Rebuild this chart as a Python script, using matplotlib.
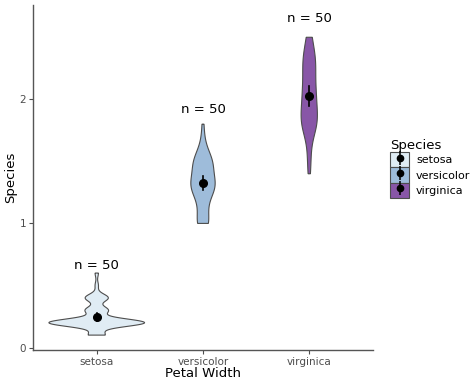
import numpy as np
import matplotlib
matplotlib.use("Agg")
import matplotlib.pyplot as plt
from matplotlib.patches import Patch
from matplotlib.lines import Line2D
from matplotlib.legend_handler import HandlerTuple

# ---- data (iris petal width, value -> count) ----
species = ["setosa", "versicolor", "virginica"]
setosa_vals = [0.1, 0.2, 0.3, 0.4, 0.5, 0.6]
setosa_counts = [5, 29, 7, 7, 1, 1]
versicolor_vals = [1.0, 1.1, 1.2, 1.3, 1.4, 1.5, 1.6, 1.7, 1.8]
versicolor_counts = [7, 3, 5, 13, 7, 10, 3, 1, 1]
virginica_vals = [1.4, 1.5, 1.6, 1.7, 1.8, 1.9, 2.0, 2.1, 2.2, 2.3, 2.4, 2.5]
virginica_counts = [1, 2, 1, 1, 11, 5, 6, 6, 3, 8, 3, 3]
fill_colors = ["#e0ecf4", "#9ebcda", "#8856a7"]
y_ticks = [0, 1, 2]

groups = [np.repeat(setosa_vals, setosa_counts),
          np.repeat(versicolor_vals, versicolor_counts),
          np.repeat(virginica_vals, virginica_counts)]


def nrd0(x):
    sd = np.std(x, ddof=1)
    q75, q25 = np.percentile(x, [75, 25])
    lo = min(sd, (q75 - q25) / 1.34)
    if lo == 0:
        lo = sd
    return 0.9 * lo * len(x) ** (-0.2)


def kde(x, grid):
    bw = nrd0(x)
    z = (grid[:, None] - x[None, :]) / bw
    return np.exp(-0.5 * z ** 2).sum(axis=1) / (len(x) * bw * np.sqrt(2 * np.pi))


dens = []
for g in groups:
    grid = np.linspace(g.min(), g.max(), 512)
    dens.append((grid, kde(g, grid)))
dmax = max(d.max() for _, d in dens)

fig = plt.figure(figsize=(4.74, 3.87), dpi=100)
ax = fig.add_axes([33 / 474, 37 / 387, 340 / 474, 345 / 387])

grey = "#4d4d4d"
for i, ((grid, d), g) in enumerate(zip(dens, groups)):
    pos = i + 1
    w = d / dmax * 0.45
    xs = np.concatenate([pos - w, (pos + w)[::-1]])
    ys = np.concatenate([grid, grid[::-1]])
    ax.fill(xs, ys, facecolor=fill_colors[i], edgecolor=grey, linewidth=0.8, zorder=2)
    m = g.mean()
    se = g.std(ddof=1) / np.sqrt(len(g))
    ci = 2.0096 * se
    ax.plot([pos, pos], [m - ci, m + ci], color="black", lw=1.2, zorder=3)
    ax.plot([pos], [m], "o", color="black", ms=5.5, zorder=4)
    ax.text(pos, g.max() * 1.05 + 0.03, f"n = {len(g)}", ha="center", va="center",
            fontsize=9.5, color="black")

ax.set_xlim(0.4, 3.6)
ax.set_ylim(-0.02, 2.76)
ax.set_xticks([1, 2, 3])
ax.set_xticklabels(species)
ax.set_yticks(y_ticks)
ax.set_yticklabels([str(t) for t in y_ticks])
ax.tick_params(axis="both", colors=grey, labelsize=7.5, length=3, width=0.8,
               labelcolor=grey, pad=2)
for s in ["top", "right"]:
    ax.spines[s].set_visible(False)
for s in ["left", "bottom"]:
    ax.spines[s].set_color("#555555")
    ax.spines[s].set_linewidth(1.0)
ax.set_xlabel("Petal Width", fontsize=9.5, labelpad=0)
ax.set_ylabel("Species", fontsize=9.5, labelpad=2)

handles = []
for c in fill_colors:
    handles.append((Patch(facecolor=c, edgecolor=grey, linewidth=0.8),
                    Line2D([], [], marker="|", ms=10, mew=1.1, color="black", ls=""),
                    Line2D([], [], marker="o", ms=4.5, color="black", ls="")))
leg = fig.legend(handles, species, handler_map={tuple: HandlerTuple(ndivide=1, pad=0)},
                 loc="upper left", bbox_to_anchor=(390 / 474, 1 - 139 / 387),
                 frameon=False, title="Species", title_fontsize=9.5, fontsize=8,
                 handlelength=1.75, handleheight=1.75, labelspacing=0.0,
                 handletextpad=0.6, borderaxespad=0, borderpad=0)
leg._legend_box.align = "left"

fig.savefig("out.png", dpi=100)
